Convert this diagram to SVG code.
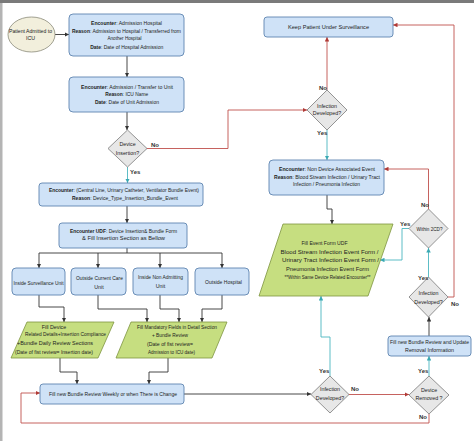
<svg xmlns="http://www.w3.org/2000/svg" width="474" height="441" viewBox="0 0 474 441">
<style>
.bx{fill:#cfe2f7;stroke:#5f84b0;stroke-width:0.9}
.dm{fill:#e7e7e7;stroke:#7a7a7a;stroke-width:0.8}
.pg{fill:#c6de80;stroke:#7d9440;stroke-width:0.8}
text{font-family:"Liberation Sans",Arial,sans-serif;font-size:5.3px;fill:#222;text-anchor:middle}
.ev{font-size:6px}
.lb{font-size:6px;font-weight:bold;text-anchor:start;fill:#333}
.k{fill:none;stroke:#333;stroke-width:0.9}
.r{fill:none;stroke:#c0504d;stroke-width:0.9}
.c{fill:none;stroke:#4bb6bf;stroke-width:0.9}
.k{marker-end:url(#ak)}
.r{marker-end:url(#ar)}
.c{marker-end:url(#ac)}
.nm{marker-end:none}
</style>
<defs>
<marker id="ak" viewBox="0 0 6 6" refX="6" refY="3" markerWidth="4.5" markerHeight="4.5" markerUnits="userSpaceOnUse" orient="auto"><path d="M0,0L6,3L0,6z" fill="#333"/></marker>
<marker id="ar" viewBox="0 0 6 6" refX="6" refY="3" markerWidth="4.5" markerHeight="4.5" markerUnits="userSpaceOnUse" orient="auto"><path d="M0,0L6,3L0,6z" fill="#b03a36"/></marker>
<marker id="ac" viewBox="0 0 6 6" refX="6" refY="3" markerWidth="4.5" markerHeight="4.5" markerUnits="userSpaceOnUse" orient="auto"><path d="M0,0L6,3L0,6z" fill="#3aa9b3"/></marker>
</defs>
<rect x="0" y="0" width="474" height="441" fill="#ffffff"/>
<rect x="0" y="0" width="2.5" height="441" fill="#b4b4b4"/>
<rect x="0" y="0" width="474" height="3" fill="#7a7a7a"/>

<g id="connectors">
<path class="k" d="M55,34.5H69"/>
<path class="k" d="M127,56V77"/>
<path class="k" d="M127,112V130"/>
<path class="r" d="M147,148.5H228V110H307"/>
<path class="c" d="M127.5,167V183"/>
<path class="k" d="M127,206V223"/>
<path class="k nm" d="M127,248V253"/>
<path class="k nm" d="M39,253H222"/>
<path class="k" d="M39,253V268"/>
<path class="k" d="M98,253V268"/>
<path class="k" d="M160,253V268"/>
<path class="k" d="M222,253V268"/>
<path class="k" d="M39,295V307H64V322"/>
<path class="k" d="M98,295V309H147V322"/>
<path class="k" d="M160,295V309H179V322"/>
<path class="k" d="M222,295V309H202V322"/>
<path class="k" d="M60,358V372H77V384"/>
<path class="k" d="M168,358V372H149V384"/>
<path class="k" d="M184,394H311"/>
<path class="r" d="M349,394.5H409"/>
<path class="c" d="M330,376V337H321V296"/>
<path class="r" d="M429,414V423H21V393H40"/>
<path class="c" d="M429,376V356"/>
<path class="k" d="M429,336V317"/>
<path class="c" d="M428.5,277V248"/>
<path class="r" d="M448,297H454V25H393"/>
<path class="r" d="M428.5,209V169H384"/>
<path class="c" d="M409,228.5H402V260H380"/>
<path class="r" d="M327,90V37"/>
<path class="c" d="M327,130V160"/>
<path class="k" d="M327,195V209H332V224"/>
</g>

<g id="start">
<ellipse cx="31.5" cy="34.5" rx="23.5" ry="17.5" fill="#f2efdc" stroke="#8a8a7a" stroke-width="0.8"/>
<text x="30.5" y="33" textLength="43" lengthAdjust="spacingAndGlyphs">Patient Admitted to</text>
<text x="30.5" y="40.2">ICU</text>
</g>

<g id="admission-hospital">
<rect class="bx" x="69" y="14" width="115" height="42" rx="4"/>
<text x="126.5" y="25.2" textLength="71" lengthAdjust="spacingAndGlyphs"><tspan font-weight="bold">Encounter</tspan>: Admission Hospital</text>
<text x="126.5" y="32.8" textLength="109" lengthAdjust="spacingAndGlyphs"><tspan font-weight="bold">Reason</tspan>: Admission to Hospital / Transferred from</text>
<text x="124.5" y="40.2" textLength="34" lengthAdjust="spacingAndGlyphs">Another Hospital</text>
<text x="126.7" y="48.6" textLength="73" lengthAdjust="spacingAndGlyphs"><tspan font-weight="bold">Date</tspan>: Date of Hospital Admission</text>
</g>

<g id="admission-unit">
<rect class="bx" x="69" y="77" width="115" height="35" rx="4"/>
<text x="127" y="88.6" textLength="92" lengthAdjust="spacingAndGlyphs"><tspan font-weight="bold">Encounter</tspan>: Admission  / Transfer to Unit</text>
<text x="126.7" y="96.2" textLength="43" lengthAdjust="spacingAndGlyphs"><tspan font-weight="bold">Reason</tspan>: ICU Name</text>
<text x="127" y="103.6" textLength="64" lengthAdjust="spacingAndGlyphs"><tspan font-weight="bold">Date</tspan>: Date of Unit Admission</text>
</g>

<g id="device-insertion">
<polygon class="dm" points="127.5,130 147,148.5 127.5,167 108,148.5"/>
<text x="127.5" y="146">Device</text>
<text x="127.5" y="155">Insertion?</text>
<text class="lb" x="151" y="147">No</text>
<text class="lb" x="130" y="174">Yes</text>
</g>

<g id="bundle-event">
<rect class="bx" x="39" y="183" width="164" height="23" rx="3"/>
<text x="124" y="192" textLength="150" lengthAdjust="spacingAndGlyphs"><tspan font-weight="bold">Encounter</tspan>:  (Central Line, Urinary Catheter, Ventilator Bundle Event)</text>
<text x="125" y="200.2" textLength="106" lengthAdjust="spacingAndGlyphs"><tspan font-weight="bold">Reason</tspan>: Device_Type_Insertion_Bundle_Event</text>
</g>

<g id="encounter-udf">
<rect class="bx" x="59" y="223" width="128" height="25" rx="3"/>
<text x="123.5" y="233" textLength="107" lengthAdjust="spacingAndGlyphs"><tspan font-weight="bold">Encounter UDF</tspan>: Device Insertion&amp; Bundle Form</text>
<text x="123.5" y="240.2" textLength="83" lengthAdjust="spacingAndGlyphs">&amp; Fill Insertion Section as Bellow</text>
</g>

<g id="inside-surveillance">
<rect class="bx" x="12" y="268" width="53" height="27" rx="4"/>
<text x="38.5" y="284.6" textLength="50" lengthAdjust="spacingAndGlyphs">Inside Surveillance Unit</text>
</g>
<g id="outside-care">
<rect class="bx" x="71" y="268" width="55" height="27" rx="4"/>
<text x="99.5" y="280.2" textLength="47" lengthAdjust="spacingAndGlyphs">Outside Current Care</text>
<text x="99" y="288.6">Unit</text>
</g>
<g id="inside-non-admitting">
<rect class="bx" x="133" y="268" width="55" height="27" rx="4"/>
<text x="160.5" y="278.6" textLength="45" lengthAdjust="spacingAndGlyphs">Inside Non Admitting</text>
<text x="160.5" y="287.6">Unit</text>
</g>
<g id="outside-hospital">
<rect class="bx" x="195" y="268" width="54" height="27" rx="4"/>
<text x="223.5" y="284" textLength="37" lengthAdjust="spacingAndGlyphs">Outside Hospital</text>
</g>

<g id="fill-device">
<polygon class="pg" points="27,322 114,322 98,358 11,358"/>
<text x="54" y="328.6">Fill Device</text>
<text x="65.5" y="336.2" textLength="81" lengthAdjust="spacingAndGlyphs">Related Details+Insertion Compliance</text>
<text x="55" y="345.2" textLength="76" lengthAdjust="spacingAndGlyphs">+Bundle Daily Review Sections</text>
<text x="54" y="354.2" textLength="78" lengthAdjust="spacingAndGlyphs">(Date of fist review= Insertion date)</text>
</g>

<g id="fill-mandatory">
<polygon class="pg" points="131,322 227,322 212,358 116,358"/>
<text x="177" y="329.2" textLength="80" lengthAdjust="spacingAndGlyphs">Fill Mandatory Fields in Detail Section</text>
<text x="170" y="337" textLength="36" lengthAdjust="spacingAndGlyphs">+ Bundle Review</text>
<text x="170" y="346" textLength="46" lengthAdjust="spacingAndGlyphs">(Date of fist review=</text>
<text x="171.5" y="354.2" textLength="47" lengthAdjust="spacingAndGlyphs">Admission to ICU date)</text>
</g>

<g id="weekly-review">
<rect class="bx" x="40" y="384" width="144" height="20" rx="3"/>
<text x="113" y="396" textLength="128" lengthAdjust="spacingAndGlyphs">Fill new Bundle Review Weekly or when There is Change</text>
</g>

<g id="keep-surveillance">
<rect class="bx" x="264" y="17" width="129" height="20" rx="3"/>
<text x="328.5" y="29.2" textLength="81" lengthAdjust="spacingAndGlyphs">Keep Patient Under Surveillance</text>
</g>

<g id="infection-1">
<polygon class="dm" points="327,90 347,110 327,130 307,110"/>
<text x="327" y="108">Infection</text>
<text x="327" y="115.2">Developed?</text>
<text class="lb" x="319" y="90.4">No</text>
<text class="lb" x="317" y="135.4">Yes</text>
</g>

<g id="non-device-event">
<rect class="bx" x="269" y="160" width="115" height="35" rx="4"/>
<text x="327" y="171.2" textLength="96" lengthAdjust="spacingAndGlyphs"><tspan font-weight="bold">Encounter</tspan>: Non Device Associated Event</text>
<text x="327" y="179.2" textLength="106" lengthAdjust="spacingAndGlyphs"><tspan font-weight="bold">Reason</tspan>: Blood Stream Infection /  Urinary Tract</text>
<text x="326.5" y="186.2" textLength="67" lengthAdjust="spacingAndGlyphs">Infection / Pneumonia Infection</text>
</g>

<g id="event-form">
<polygon class="pg" points="283,224 393,224 368,296 259,296"/>
<text class="ev" x="324.5" y="245" textLength="46" lengthAdjust="spacingAndGlyphs">Fill Event Form UDF</text>
<text class="ev" x="329.5" y="253.5" textLength="98" lengthAdjust="spacingAndGlyphs">Blood Stream Infection Event Form /</text>
<text class="ev" x="330.5" y="262" textLength="97" lengthAdjust="spacingAndGlyphs">Urinary Tract Infection Event Form /</text>
<text class="ev" x="327.5" y="270.5" textLength="83" lengthAdjust="spacingAndGlyphs">Pneumonia Infection Event Form</text>
<text class="ev" x="327.5" y="279" textLength="86" lengthAdjust="spacingAndGlyphs">**Within Same Device Related Encounter**</text>
</g>

<g id="within-2cd">
<polygon class="dm" points="428.5,209 448,228.5 428.5,248 409,228.5"/>
<text x="429.5" y="230.5" textLength="26" lengthAdjust="spacingAndGlyphs">Within 2CD?</text>
<text class="lb" x="421" y="207">No</text>
<text class="lb" x="400" y="225.5">Yes</text>
</g>

<g id="infection-2">
<polygon class="dm" points="428.5,277 448,297 428.5,317 409,297"/>
<text x="428.5" y="295">Infection</text>
<text x="428.5" y="303.6">Developed?</text>
<text class="lb" x="418" y="279.8">Yes</text>
<text class="lb" x="451" y="306.4">No</text>
</g>

<g id="removal-review">
<rect class="bx" x="388" y="336" width="83" height="20" rx="3"/>
<text x="429.5" y="343.6" textLength="79" lengthAdjust="spacingAndGlyphs">Fill new Bundle Review and Update</text>
<text x="429.5" y="352">Removal Information</text>
</g>

<g id="device-removed">
<polygon class="dm" points="429,376 449,395 429,414 409,395"/>
<text x="429" y="392">Device</text>
<text x="429" y="400.2">Removed ?</text>
<text class="lb" x="418" y="372.8">Yes</text>
<text class="lb" x="419" y="418.8">No</text>
</g>

<g id="infection-3">
<polygon class="dm" points="330,376 349,394.5 330,413 311,394.5"/>
<text x="330" y="391.2">Infection</text>
<text x="330" y="399.6">Developed?</text>
<text class="lb" x="319" y="372.8">Yes</text>
<text class="lb" x="351" y="391.4">No</text>
</g>
</svg>
